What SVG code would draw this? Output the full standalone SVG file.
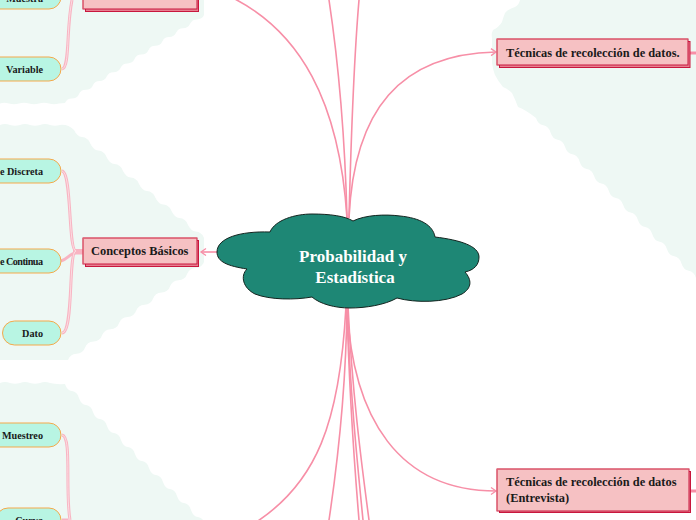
<svg xmlns="http://www.w3.org/2000/svg" width="696" height="520" viewBox="0 0 696 520">
<style>
.bg{fill:#eef8f4;stroke:none}
.con{fill:none;stroke:#f78fa7;stroke-width:1.6}
.sub{fill:none;stroke:#f8b4c2;stroke-width:3}
.subi{fill:none;stroke:#fde6ea;stroke-width:.8}
.back{fill:#e77f90;stroke:#c8173d;stroke-width:1}
.front{fill:#f6c1c3;stroke:#c8173d;stroke-width:1}
.edge{fill:none;stroke:#e2707f;stroke-width:1}
.pill{fill:#b8f5e3;stroke:#f5a94a;stroke-width:1}
text{font-family:"Liberation Serif",serif;font-weight:700;fill:#1a1a1a}
.t{font-size:12.4px}
.p{font-size:10.2px}
.c{font-size:17px;fill:#fff;text-anchor:middle}
</style>
<defs>
<marker id="arr" markerWidth="8" markerHeight="10" refX="6" refY="4" orient="auto" markerUnits="userSpaceOnUse"><path d="M1 0.5L6 4L1 7.5" fill="none" stroke="#f78fa7" stroke-width="1.3"/></marker>
</defs>
<g id="backgrounds">
<path class="bg" d="M0 0H204V15q-2 4.400-7 4.400q-5 0-6.900 4.400q-2 4.400-7 4.400q-5 0-6.900 4.400q-2 4.400-7 4.400q-5 0-6.900 4.400q-2 4.400-7 4.400q-5 0-6.900 4.400q-2 4.400-7 4.400q-5 0-6.900 4.400q-2 4.400-7 4.400q-5 0-6.900 4.400q-2 4.400-7 4.400q-5 0-6.900 4.400q-2 4.400-7 4.400q-5 0-6.900 4.400q-2 4.400-7 4.400q-5 0-6.900 4.400q-2 4.400-7 4.400q-5 0-6.900 4.400q-3 0-6 .5q-5 1.500-10 0q-5-1.500-10 0q-5 1.500-10 0q-5-1.500-10 0q-5 1.500-10 0q-5-1.500-9 0Z"/>
<path class="bg" d="M0 125q5-2 10 0q5 1.500 10 0q5-2 10 0q5 1.500 10 0q5-2 10 0q5 1.500 10 0q8-1 14 5q3 6.500 8 7q6 .5 8.250 6.500q3 6.500 8 7q6 .5 8.250 6.500q3 6.500 8 7q6 .5 8.250 6.500q3 6.500 8 7q6 .5 8.250 6.500q3 6.500 8 7q6 .5 8.250 6.500q3 6.500 8 7q6 .5 8.250 6.500q3 6.500 8 7q6 .5 8.250 6.500q3 6.500 8 7q6 .5 8.250 6.500V262q-2 5.500-8.500 6q-6.500 .5-8.500 6.250q-2 5.500-8.500 6q-6.500 .5-8.500 6.250q-2 5.500-8.500 6q-6.500 .5-8.500 6.250q-2 5.500-8.500 6q-6.500 .5-8.500 6.250q-2 5.500-8.500 6q-6.500 .5-8.500 6.250q-2 5.500-8.500 6q-6.500 .5-8.500 6.250q-2 5.500-8.500 6q-6.500 .5-8.500 6.250q-2 5.500-8.500 6q-6.500 .5-8.500 6.250H0Z"/>
<path class="bg" d="M0 383q5-2 10 0q5 1.500 10 0q5-2 10 0q5 1.500 10 0q5-2 10 0q5 1.500 15 1q2 6.500 7 7q5 .5 7 7q2 6.500 7 7q5 .5 7 7q2 6.500 7 7q5 .5 7 7q2 6.500 7 7q5 .5 7 7q2 6.500 7 7q5 .5 7 7q2 6.500 7 7q5 .5 7 7q2 6.500 7 7q5 .5 7 7q2 6.500 7 7q5 .5 7 7q2 6.500 7 7q5 .5 7 7q2 6.500 7 7q5 .5 7 7V524H0Z"/>
<path class="bg" d="M520 0q-1 5-5 7q-7 2-10 6q-2 5-3 9q-3 5-9 8q-2 4-1 8V63q1 7 3 12q3 6 8 12q5 2 9 6q3 6 6 14q8 3 18 11q2 6.500 7.250 7.250q5.250 .75 7.300 7.300q2 6.500 7.250 7.250q5.250 .75 7.300 7.300q2 6.500 7.250 7.250q5.250 .75 7.300 7.300q2 6.500 7.250 7.250q5.250 .75 7.300 7.300q2 6.500 7.250 7.250q5.250 .75 7.300 7.300q2 6.500 7.250 7.250q5.250 .75 7.300 7.300q2 6.500 7.250 7.250q5.250 .75 7.300 7.300q2 6.500 7.250 7.250q5.250 .75 7.300 7.300q2 6.500 7.250 7.250q5.250 .75 7.300 7.300q2 6.500 7.250 7.250q5.250 .75 7.300 7.300q2 6.500 7.250 7.250q5.250 .75 7.300 7.300V0Z"/>
</g>
<g id="connectors">
<path class="con" d="M347 218C345 140 338 60 329 0"/>
<path class="con" d="M349 218C351 140 353 70 359 0"/>
<path class="con" d="M347 218C340 110 305 25 215 -10"/>
<path class="con" marker-end="url(#arr)" d="M349 218C354 110 400 54 496 52"/>
<path class="con" marker-end="url(#arr)" d="M347 305C352 420 400 491 496 491"/>
<path class="con" d="M346 306C340 420 318 485 250 526"/>
<path class="con" d="M347 306C346 390 338 460 329 520"/>
<path class="con" d="M347 306C349 390 354 460 359 520"/>
<path class="con" d="M347 306C350 390 357 460 363 520"/>
<path class="con" d="M348 306C352 390 361 460 369 520"/>
<path class="con" marker-end="url(#arr)" d="M218 252H201"/>
<path class="con" style="stroke-width:3" d="M690 53H696M691 491H696"/>
<g id="sub-links">
<path class="sub" d="M83 251H76C68 251 72 172 62 171"/>
<path class="sub" d="M83 253H76C70 253 68 259 61 261"/>
<path class="sub" d="M83 251H76C68 251 74 333 62 333"/>
<path class="sub" style="stroke-width:4" d="M83 251H73"/>
<path class="sub" d="M62 69C70 68 66 30 72 0"/>
<path class="sub" d="M62 435C72 436 65 490 70 520"/>
<path class="sub" d="M62 520H68"/>
<path class="subi" d="M76 251C68 251 72 172 62 171"/>
<path class="subi" d="M76 251C68 251 74 333 62 333"/>
<path class="subi" d="M62 69C70 68 66 30 72 0"/>
<path class="subi" d="M62 435C72 436 65 490 70 520"/>
</g>
</g>
<g id="central">
<path d="M217 252C217 238 240 231 270 232C275 220 295 214 312 214C330 214 345 216 353 221C365 215 385 214 400 216C420 218 433 225 435 237C460 240 479 246 479 257C479 265 474 270 465 272C472 280 472 288 462 294C445 303 415 303 397 298C385 305 365 308 350 308C335 308 320 304 312 297C295 300 270 300 255 294C243 288 240 276 247 269C228 266 217 262 217 252Z" fill="#1e8775" stroke="#14241f" stroke-width="1"/>
<text class="c" x="353" y="262">Probabilidad y</text>
<text class="c" x="355" y="283">Estadística</text>
</g>
<g id="box-conceptos">
<rect class="back" x="85.500" y="240.500" width="113" height="26"/>
<rect class="front" x="83" y="238" width="114" height="26"/>
<path class="edge" d="M83 264V238H197"/>
<text class="t" x="91" y="255">Conceptos Básicos</text>
</g>
<g id="box-top-left">
<rect class="back" x="85.500" y="-20" width="113" height="31.500"/>
<rect class="front" x="83" y="-20" width="114" height="29"/>
<path class="edge" d="M83 9V-20"/>
</g>
<g id="box-tecnicas">
<rect class="back" x="499.500" y="41.500" width="190.500" height="26"/>
<rect class="front" x="497" y="39" width="191" height="26"/>
<path class="edge" d="M497 65V39H688"/>
<text class="t" x="506" y="56.500">Técnicas de recolección de datos.</text>
</g>
<g id="box-entrevista">
<rect class="back" x="499.500" y="471.500" width="191" height="41"/>
<rect class="front" x="497" y="469" width="192" height="42"/>
<path class="edge" d="M497 511V469H689"/>
<text class="t" x="506" y="486">Técnicas de recolección de datos</text>
<text class="t" x="506" y="502">(Entrevista)</text>
</g>
<g id="pill-muestra">
<rect class="pill" x="-30" y="-15" width="91" height="24" rx="12"/>
<text class="p" x="43" y="2" text-anchor="end">Muestra</text>
</g>
<g id="pill-variable">
<rect class="pill" x="-30" y="57" width="91" height="24" rx="12"/>
<text class="p" x="43" y="73" text-anchor="end">Variable</text>
</g>
<g id="pill-discreta">
<rect class="pill" x="-30" y="159" width="91" height="24" rx="12"/>
<text class="p" x="43" y="175" text-anchor="end">e Discreta</text>
</g>
<g id="pill-continua">
<rect class="pill" x="-30" y="249" width="91" height="24" rx="12"/>
<text class="p" x="0" y="265" textLength="43">e Continua</text>
</g>
<g id="pill-dato">
<rect class="pill" x="2.500" y="321" width="58.500" height="24" rx="12"/>
<text class="p" x="43" y="337" text-anchor="end">Dato</text>
</g>
<g id="pill-muestreo">
<rect class="pill" x="-30" y="423" width="91" height="24" rx="12"/>
<text class="p" x="43" y="439" text-anchor="end">Muestreo</text>
</g>
<g id="pill-curva">
<rect class="pill" x="-4" y="508" width="65" height="24" rx="12"/>
<text class="p" x="43" y="524" text-anchor="end">Curva</text>
</g>
</svg>
